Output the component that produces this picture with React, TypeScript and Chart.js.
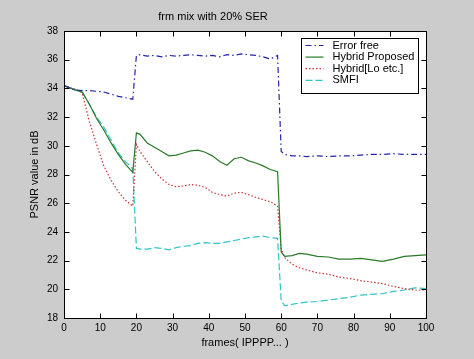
import React, { useEffect, useRef } from 'react';
import { Chart, registerables } from 'chart.js';

Chart.register(...registerables);

const chartTitle = 'frm mix with 20% SER';
const xAxisTitle = 'frames( IPPPP... )';
const yAxisTitle = 'PSNR value in dB';

const frames = [0, 3, 5, 7, 9, 11, 13, 15, 17, 19,
  20, 21, 23, 25, 27, 29, 31, 33, 35, 37, 39, 41, 43, 45, 47, 49, 51, 53, 55, 57, 59,
  60, 61, 63, 65, 67, 70, 73, 76, 79, 82, 85, 88, 91, 94, 97, 100];

const errorFree = [34.2, 33.9, 33.85, 33.85, 33.8, 33.75, 33.6, 33.45, 33.35, 33.25,
  36.3, 36.35, 36.25, 36.3, 36.2, 36.3, 36.25, 36.3, 36.35, 36.3, 36.25, 36.3, 36.2, 36.35, 36.3, 36.4, 36.35, 36.3, 36.2, 36.05, 36.3,
  29.6, 29.4, 29.3, 29.3, 29.25, 29.3, 29.25, 29.3, 29.3, 29.35, 29.4, 29.4, 29.45, 29.4, 29.4, 29.4];

const hybridProposed = [34.2, 33.9, 33.75, 32.9, 31.9, 31.1, 30.2, 29.4, 28.7, 28.15,
  30.9, 30.8, 30.2, 29.9, 29.6, 29.3, 29.35, 29.5, 29.65, 29.7, 29.55, 29.3, 28.9, 28.65, 29.1, 29.2, 28.95, 28.8, 28.6, 28.35, 28.2,
  22.6, 22.3, 22.35, 22.5, 22.45, 22.3, 22.25, 22.1, 22.1, 22.15, 22.05, 21.95, 22.1, 22.3, 22.35, 22.4];

const hybridLo = [34.2, 33.95, 33.7, 31.7, 30.1, 28.6, 27.6, 26.8, 26.2, 25.8,
  30.1, 29.6, 28.9, 28.2, 27.7, 27.3, 27.15, 27.2, 27.3, 27.25, 27.1, 26.75, 26.6, 26.5, 26.7, 26.75, 26.6, 26.4, 26.25, 26.1, 25.8,
  22.8, 22.2, 21.75, 21.5, 21.35, 21.15, 21.05, 20.85, 20.75, 20.6, 20.5, 20.4, 20.2, 20.05, 19.95, 19.95];

const smfi = [34.2, 33.9, 33.8, 32.9, 32.0, 31.3, 30.4, 29.5, 28.9, 28.4,
  22.85, 22.8, 22.8, 22.9, 22.85, 22.75, 22.9, 23.0, 23.05, 23.2, 23.25, 23.2, 23.2, 23.3, 23.4, 23.5, 23.6, 23.65, 23.7, 23.6, 23.55,
  19.2, 18.85, 18.95, 19.05, 19.1, 19.15, 19.25, 19.35, 19.45, 19.6, 19.65, 19.7, 19.85, 19.95, 20.1, 20.05];

const seriesNames = ['Error free', 'Hybrid Proposed', 'Hybrid[Lo etc.]', 'SMFI'];
const seriesValues = [errorFree, hybridProposed, hybridLo, smfi];
const seriesColors = ['#2424a8', '#2a7a2a', '#c83030', '#30c4c4'];
const seriesDashes = [[6, 3, 1.5, 3], [], [1.5, 2], [7, 3]];

const xMin = 0, xMax = 100, xStep = 10;
const yMin = 18, yMax = 38, yStep = 2;

const FONT = "'Liberation Sans', Arial, sans-serif";

const matlabPlugin = {
  id: 'matlabLook',
  beforeDraw(chart: any) {
    const { ctx, chartArea: a } = chart;
    ctx.save();
    ctx.fillStyle = '#cccccc';
    ctx.fillRect(0, 0, chart.width, chart.height);
    ctx.fillStyle = '#ffffff';
    ctx.fillRect(a.left, a.top, a.right - a.left, a.bottom - a.top);
    ctx.restore();
  },
  afterDraw(chart: any) {
    const { ctx, chartArea: a, scales } = chart;
    const L = Math.round(a.left) + 0.5, R = Math.round(a.right) + 0.5;
    const T = Math.round(a.top) + 0.5, B = Math.round(a.bottom) + 0.5;
    ctx.save();
    ctx.strokeStyle = '#000000';
    ctx.lineWidth = 1;
    ctx.setLineDash([]);
    ctx.strokeRect(L, T, R - L, B - T);
    const tl = 5;
    ctx.beginPath();
    scales.x.ticks.forEach((t: any) => {
      const px = Math.round(scales.x.getPixelForValue(t.value)) + 0.5;
      ctx.moveTo(px, B); ctx.lineTo(px, B - tl);
      ctx.moveTo(px, T); ctx.lineTo(px, T + tl);
    });
    scales.y.ticks.forEach((t: any) => {
      const py = Math.round(scales.y.getPixelForValue(t.value)) + 0.5;
      ctx.moveTo(L, py); ctx.lineTo(L + tl, py);
      ctx.moveTo(R, py); ctx.lineTo(R - tl, py);
    });
    ctx.stroke();

    // legend box inside plot, top-right
    const bw = 117, bh = 55;
    const bx = Math.round(a.right - 8 - bw) + 0.5;
    const by = Math.round(a.top + 7) + 0.5;
    ctx.fillStyle = '#ffffff';
    ctx.fillRect(bx, by, bw, bh);
    ctx.strokeRect(bx, by, bw, bh);
    ctx.font = `11px ${FONT}`;
    ctx.textBaseline = 'middle';
    ctx.textAlign = 'left';
    chart.data.datasets.forEach((ds: any, i: number) => {
      const ry = by + 7 + i * 11.6;
      ctx.strokeStyle = ds.borderColor;
      ctx.lineWidth = ds.borderWidth;
      ctx.setLineDash(ds.borderDash || []);
      ctx.beginPath();
      ctx.moveTo(bx + 4, ry);
      ctx.lineTo(bx + 22, ry);
      ctx.stroke();
      ctx.fillStyle = '#000000';
      ctx.fillText(ds.label, bx + 31, ry);
    });
    ctx.restore();
  },
};

export default function App() {
  const ref = useRef<HTMLCanvasElement | null>(null);
  useEffect(() => {
    if (!ref.current) return;
    const datasets = seriesNames.map((name, i) => ({
      label: name,
      data: frames.map((f, j) => ({ x: f, y: seriesValues[i][j] })),
      borderColor: seriesColors[i],
      backgroundColor: seriesColors[i],
      borderWidth: 1.2,
      borderDash: seriesDashes[i],
      pointRadius: 0,
      tension: 0,
      fill: false,
    }));
    const chart = new Chart(ref.current, {
      type: 'line',
      data: { datasets },
      plugins: [matlabPlugin],
      options: {
        animation: false,
        responsive: false,
        maintainAspectRatio: false,
        layout: { padding: { left: 0, right: 48, top: 0, bottom: 0 } },
        plugins: {
          legend: { display: false },
          tooltip: { enabled: false },
          title: {
            display: true,
            text: chartTitle,
            color: '#000000',
            font: { family: FONT, size: 11, weight: 'normal' },
            padding: { top: 10.4, bottom: 7.4 },
          },
        },
        scales: {
          x: {
            type: 'linear',
            min: xMin,
            max: xMax,
            afterFit: (s: any) => { s.height = 41; },
            ticks: {
              stepSize: xStep,
              color: '#000000',
              font: { family: FONT, size: 10 },
              padding: 4,
              maxRotation: 0,
            },
            grid: { display: false, drawTicks: false },
            border: { display: false },
            title: {
              display: true,
              text: xAxisTitle,
              color: '#000000',
              font: { family: FONT, size: 11 },
              padding: { top: 0, bottom: 9.5 },
            },
          },
          y: {
            type: 'linear',
            min: yMin,
            max: yMax,
            afterFit: (s: any) => { s.width = 64; },
            ticks: {
              stepSize: yStep,
              color: '#000000',
              font: { family: FONT, size: 10 },
              padding: 6,
            },
            grid: { display: false, drawTicks: false },
            border: { display: false },
            title: {
              display: true,
              text: yAxisTitle,
              color: '#000000',
              font: { family: FONT, size: 11 },
              padding: { top: 28.5, bottom: 0 },
            },
          },
        },
      },
    });
    return () => chart.destroy();
  }, []);
  return (
    <div style={{ position: 'fixed', left: 0, top: 0, width: 474, height: 359, background: '#cccccc' }}>
      <canvas ref={ref} width={474} height={359} style={{ display: 'block' }} />
    </div>
  );
}
